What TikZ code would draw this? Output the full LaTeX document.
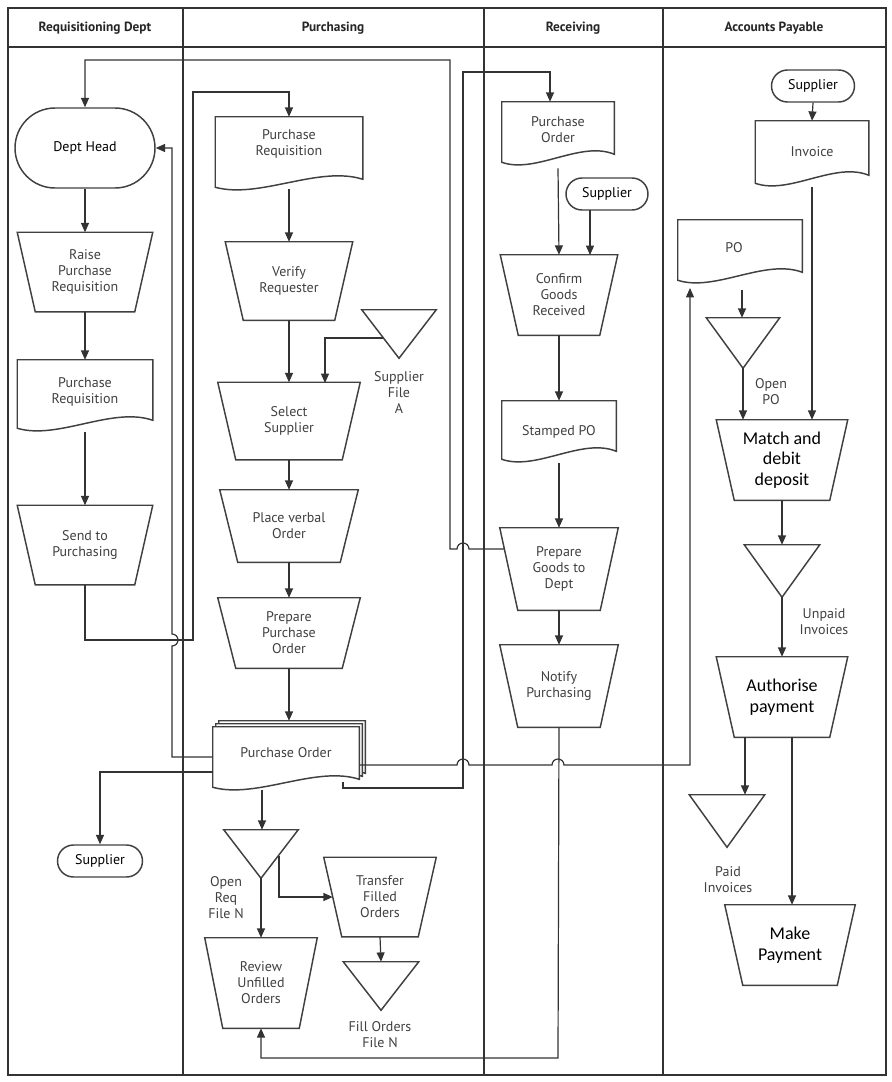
\documentclass[tikz,border=0pt]{standalone}
\usepackage{fontspec}
\setmainfont{PT Sans}
\newfontfamily\myCal{Carlito}
\usetikzlibrary{calc,arrows.meta,shapes.misc}
\begin{document}
\begin{tikzpicture}[x=0.75pt,y=-0.75pt,
  ln/.style={line width=0.9pt,draw=black!80},
  arr/.style={ln,-{Triangle[length=7pt,width=6pt]}},
  shp/.style={line width=1.1pt,draw=black!75},
  bx/.style 2 args={rectangle,draw=none,inner sep=0pt,align=center,minimum width=#1*0.75pt,minimum height=#2*0.75pt,text=black!75,font=\fontsize{10.5}{12}\selectfont},
  term/.style 2 args={rounded rectangle,shp,inner sep=0pt,align=center,minimum width=#1*0.75pt,minimum height=#2*0.75pt,font=\fontsize{10.5}{12}\selectfont},
  lbl/.style={align=center,text=black!75,font=\fontsize{10.5}{12}\selectfont},
  big/.style={font=\myCal\fontsize{13.5}{15.5}\selectfont,text=black},
  hd/.style={font=\bfseries\fontsize{10}{12}\selectfont,text=black!85}]
\newcommand\dcs[1]{\draw[shp,fill=white] (#1.north west) -- (#1.north east) -- ($(#1.south east)+(0,-4)$) .. controls ($(#1.south west)!0.7!(#1.south east)+(0,-18)$) and ($(#1.south west)!0.3!(#1.south east)+(0,16)$) .. ($(#1.south west)+(0,4)$) -- cycle;}
\newcommand\trp[1]{\draw[shp] (#1.north west) -- (#1.north east) -- ($(#1.south east)+(-18,0)$) -- ($(#1.south west)+(18,0)$) -- cycle;}
\newcommand\trg[1]{\draw[shp] (#1.north west) -- (#1.north east) -- (#1.south) -- cycle;}
\useasboundingbox (0,0) rectangle (892,1082);
% lanes
\draw[ln,line width=1.3pt] (8,8) rectangle (886,1075);
\draw[ln,line width=1.3pt] (8,47) -- (886,47);
\foreach \x in {183,484,663} \draw[ln,line width=1.3pt] (\x,8) -- (\x,1075);
\node[hd] (h1) at (95,28) {Requisitioning Dept};
\node[hd] (h2) at (333,28) {Purchasing};
\node[hd] (h3) at (573,28) {Receiving};
\node[hd] (h4) at (774,28) {Accounts Payable};
% Requisitioning
\node[term={140}{80}] (dh) at (85,148) {Dept Head};
\node[bx={135}{79}] (rpr) at (85,272) {Raise\\Purchase\\Requisition}; \trp{rpr}
\node[bx={135}{64}] (pr1) at (85,392) {}; \dcs{pr1} \node[lbl] at (85,392) {Purchase\\Requisition};
\node[bx={135}{79}] (stp) at (85,545) {Send to\\Purchasing}; \trp{stp}
\node[term={85}{32}] (sup1) at (100,861) {\color{black}Supplier};
% Purchasing
\node[bx={147}{66}] (pr2) at (289,150) {}; \dcs{pr2} \node[lbl] at (289,144) {Purchase\\Requisition};
\node[bx={127}{78}] (vr) at (289,281) {Verify\\Requester}; \trp{vr}
\node[bx={74}{48}] (sfa) at (399,334) {}; \trg{sfa}
\node[lbl] (sfal) at (399,393) {Supplier\\File\\A};
\node[bx={142}{77}] (ss) at (289,421) {Select\\Supplier}; \trp{ss}
\node[bx={138}{72}] (pv) at (289,526) {Place verbal\\Order}; \trp{pv}
\node[bx={142}{70}] (pp) at (289,633) {Prepare\\Purchase\\Order}; \trp{pp}
\node[bx={146}{56}] (pob2) at (292,749) {}; \dcs{pob2}
\node[bx={146}{56}] (pob1) at (289,752) {}; \dcs{pob1}
\node[bx={146}{56}] (pob) at (286,755) {}; \dcs{pob} \node[lbl] at (286,753) {Purchase Order};
\node[bx={74}{48}] (or) at (261,854) {}; \trg{or}
\node[lbl] (orl) at (226,898) {Open\\Req\\File N};
\node[bx={112}{90}] (rv) at (261,983) {Review\\Unfilled\\Orders}; \trp{rv}
\node[bx={112}{79}] (tf) at (380,897) {Transfer\\Filled\\Orders}; \trp{tf}
\node[bx={75}{48}] (fo) at (381,986) {}; \trg{fo}
\node[lbl] (fol) at (380,1035) {Fill Orders\\File N};
% Receiving
\node[bx={112}{56}] (rpo) at (558,130) {}; \dcs{rpo} \node[lbl] at (558,130) {Purchase\\Order};
\node[term={82}{32}] (sup2) at (607,194) {\color{black}Supplier};
\node[bx={117}{80}] (cg) at (559,295) {Confirm\\Goods\\Received}; \trp{cg}
\node[bx={114}{54}] (sp) at (559,428) {}; \dcs{sp} \node[lbl] at (559,432) {Stamped PO};
\node[bx={118}{82}] (pg) at (559,569) {Prepare\\Goods to\\Dept}; \trp{pg}
\node[bx={118}{82}] (np) at (559,686) {Notify\\Purchasing}; \trp{np}
% Accounts payable
\node[term={83}{32}] (sup3) at (813,86) {\color{black}Supplier};
\node[bx={113}{58}] (inv) at (812,150) {}; \dcs{inv} \node[lbl] at (812,152) {Invoice};
\node[bx={124}{56}] (apo) at (740,248) {}; \dcs{apo} \node[lbl] at (734,248) {PO};
\node[bx={73}{50}] (opt) at (743,343) {}; \trg{opt}
\node[lbl] (optl) at (771,392) {Open\\PO};
\node[bx={131}{80},big] (mt) at (782,460) {Match and\\debit\\deposit}; \trp{mt}
\node[bx={75}{52}] (ut) at (782,571) {}; \trg{ut}
\node[lbl] (utl) at (824,622) {Unpaid\\Invoices};
\node[bx={131}{80},big] (au) at (782,697) {Authorise\\payment}; \trp{au}
\node[bx={75}{52}] (pt) at (727,821) {}; \trg{pt}
\node[lbl] (ptl) at (728,880) {Paid\\Invoices};
\node[bx={130}{80},big] (mp) at (790,945) {Make\\Payment}; \trp{mp}
% connectors Requisitioning
\draw[arr] (dh.south) -- (rpr.north);
\draw[arr] (rpr.south) -- (pr1.north);
\draw[arr] (pr1.south) ++(0,8) -- (stp.north);
\draw[arr] (stp.south) |- (193,640) -- (193,92) -| (pr2.north);
\draw[arr] ($(pob.west)+(0,2)$) -- (172,757) -- (172,646) arc[start angle=90,end angle=-90,radius=6] -- (172,148) -- (dh.east);
\draw[arr] ($(pob.west)+(0,17)$) -| (sup1.north);
% Purchasing
\draw[arr] (pr2.south) ++(0,6) -- (vr.north);
\draw[arr] (vr.south) -- (ss.north);
\draw[arr] (383,338) -| (325,383);
\draw[arr] (ss.south) -- (pv.north);
\draw[arr] (pv.south) -- (pp.north);
\draw[arr] (pp.south) -- (pob2.north -| pp.south);
\draw[arr] (262,790) -- (or.north -| 262,0);
\draw[arr] (or.south) -- (rv.north);
\draw[arr] (279,856) |- ($(tf.west)+(9,0)$);
\draw[arr] (tf.south) -- (fo.north);
\draw[arr] (np.south) -- (558,1058) -| (rv.south);
% cross-lane
\draw[arr] (504,549) -- (469,549) arc[start angle=0,end angle=-180,radius=6] -- (450,549) -- (450,60) -| (dh.north);
\draw[arr] (343,782) -- (343,788) -- (463,788) -- (463,72) -| (rpo.north -| 550,0);
\draw[arr] ($(pob.east)+(0,10)$) -- (457,765) arc[start angle=180,end angle=360,radius=6] -- (552,765) arc[start angle=180,end angle=360,radius=6] -- (690,765) -- (690,288);
% Receiving
\draw[arr] (rpo.south) ++(0,10) -- (cg.north);
\draw[arr] (590,210) -- (590,255);
\draw[arr] (cg.south) -- (sp.north);
\draw[arr] (sp.south) ++(0,8) -- (pg.north);
\draw[arr] (pg.south) -- (np.north);
% AP
\draw[arr] (sup3.south) -- (inv.north);
\draw[arr] (inv.south) ++(0,8) -- (mt.north -| inv.south);
\draw[arr] (742,290) -- (opt.north -| 742,0);
\draw[arr] (opt.south) -- (mt.north -| opt.south);
\draw[arr] (mt.south) -- (ut.north);
\draw[arr] (ut.south) -- (au.north);
\draw[arr] (745,737) -- (pt.north -| 745,0);
\draw[arr] (792,737) -- (mp.north -| 792,0);
\end{tikzpicture}
\end{document}
